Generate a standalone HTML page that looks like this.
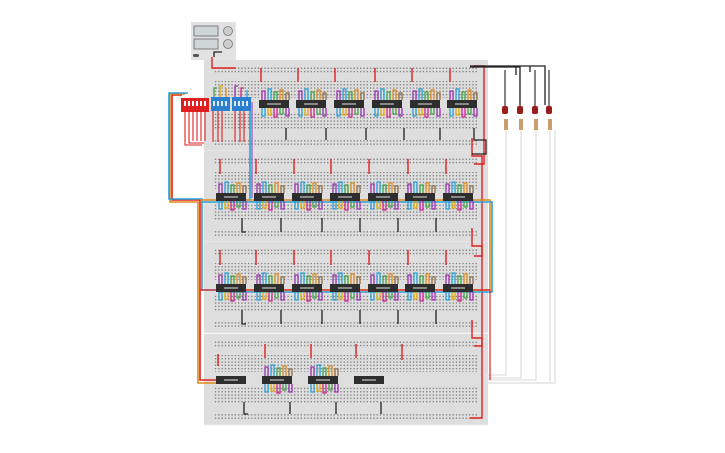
<!DOCTYPE html>
<html><head><style>html,body{margin:0;padding:0;background:#fff;}svg{display:block}</style></head>
<body>
<svg width="725" height="453" viewBox="0 0 725 453" xmlns="http://www.w3.org/2000/svg">
<defs>
<pattern id="d" width="3.3" height="3.3" patternUnits="userSpaceOnUse"><rect x="1" y="1" width="1.3" height="1.3" fill="#7a7a7a"/></pattern>
<g id="board">
<rect x="0" y="0" width="284" height="91" fill="#dedede"/>
<rect x="10" y="6" width="264" height="6.6" fill="url(#d)"/>
<rect x="10" y="21" width="264" height="17" fill="url(#d)"/>
<rect x="10" y="52" width="264" height="17" fill="url(#d)"/>
<rect x="10" y="79" width="264" height="6.6" fill="url(#d)"/>
<line x1="0" y1="91" x2="284" y2="91" stroke="#eee" stroke-width="1"/>
</g>
<g id="chip"><rect x="0" y="0" width="30" height="8" fill="#2e2e2e"/><rect x="8" y="3" width="14" height="2" fill="#888"/></g>
<g id="jmp" fill="none" stroke-width="1.3">
<path d="M3 0V-9H6V0" stroke="#9b30b0"/><path d="M9 0V-11H12V0" stroke="#2aa0d8"/><path d="M15 0V-8H18V0" stroke="#43a047"/><path d="M21 0V-10H24V0" stroke="#e08a1c"/><path d="M27 0V-7H30V0" stroke="#8d6e4a"/>
<path d="M3 8V16H6V8" stroke="#2aa0d8"/><path d="M9 8V15H12V8" stroke="#e6a800"/><path d="M15 8V17H18V8" stroke="#d02090"/><path d="M21 8V14H24V8" stroke="#43a047"/><path d="M27 8V16H30V8" stroke="#9b30b0"/>
</g>
</defs>
<!-- power supply -->
<rect x="191" y="22" width="45" height="38" fill="#e2e2e2"/>
<rect x="194" y="26" width="24" height="10" fill="#cfd6d8" stroke="#666" stroke-width=".8"/>
<rect x="194" y="39" width="24" height="10" fill="#cfd6d8" stroke="#666" stroke-width=".8"/>
<circle cx="228" cy="31" r="4.5" fill="#ccc" stroke="#777" stroke-width=".8"/>
<circle cx="228" cy="44" r="4.5" fill="#ccc" stroke="#777" stroke-width=".8"/>
<rect x="193" y="54" width="6" height="3" rx="1.5" fill="#555"/>
<!-- boards -->
<use href="#board" x="204" y="60"/>
<use href="#board" x="204" y="151"/>
<use href="#board" x="204" y="242"/>
<use href="#board" x="204" y="334"/>
<!-- red/black rail wires -->
<g stroke="#e02020" stroke-width="1.4" fill="none">
<path d="M212 57V68H236"/>
<path d="M261 68V82M298 68V82M335 68V82M375 68V82M412 68V82M450 68V82"/>
<path d="M474 66H484V164H474"/><path d="M472 138V156H482V256H474"/><path d="M472 228V246H482V346H474"/><path d="M472 320V338H482V418H470"/>
<path d="M220 159V174M256 159V174M294 159V174M331 159V174M369 159V174M408 159V174M446 159V174"/>
<path d="M220 250V265M256 250V265M294 250V265M331 250V265M369 250V265M408 250V265M446 250V265"/>
<path d="M218 354V366M265 344V358M311 344V358M356 344V358M402 344V360"/>
</g>
<g stroke="#222" stroke-width="1.3" fill="none">
<path d="M214 57V52H222"/>
<path d="M286 128V140M326 128V140M366 128V140M404 128V140M440 128V140"/>
<path d="M242 218V232H246M281 218V232M322 218V232M360 218V232M398 218V232M436 218V232"/>
<path d="M242 310V324H246M281 310V324M322 310V324M360 310V324M398 310V324M436 310V324"/>
<path d="M244 402V414H248M290 402V414M336 402V414M381 402V414"/>
<path d="M470 66H530V72M490 66H516V75M500 66H545V105M470 67H520V105"/>
<path d="M474 128V140H486V154H472"/>
</g>
<!-- LEDs and resistors -->
<g>
<path d="M505 70V106M520 70V106M535 70V106M549 70V106" stroke="#333" stroke-width="1.2"/>
<g fill="#9a1b1b"><rect x="502" y="106" width="6" height="8" rx="2"/><rect x="517" y="106" width="6" height="8" rx="2"/><rect x="532" y="106" width="6" height="8" rx="2"/><rect x="546" y="106" width="6" height="8" rx="2"/></g>
<g fill="#c8a070"><rect x="504" y="119" width="4" height="11"/><rect x="519" y="119" width="4" height="11"/><rect x="534" y="119" width="4" height="11"/><rect x="548" y="119" width="4" height="11"/></g>
<g stroke="#e6e6e6" stroke-width="1.6" fill="none">
<path d="M506 130V375H486M521 130V378H486M536 130V380H486M550 130V383H486"/>
<path d="M555 130V383H488"/>
</g>
</g>
<!-- left loop wires -->
<g fill="none" stroke-width="1.6">
<path d="M182 95H172V200H200V380H216" stroke="#e02020"/>
<path d="M185 94H170V202H198V383H216" stroke="#e08a1c"/>
<path d="M188 93H169V199H202V290H216" stroke="#2aa0d8"/>
<path d="M250 100V200H216" stroke="#2aa0d8"/>
<path d="M200 200H490V290H216" stroke="#e08a1c"/>
<path d="M202 202H492V292H218" stroke="#2aa0d8"/>
<path d="M200 290H490V380" stroke="#e02020" stroke-width="1.2"/>
<path d="M252 102V198" stroke="#9b30b0" stroke-width="1"/>
</g>
<!-- DIP switches -->
<rect x="181" y="98" width="28" height="14" fill="#e02020"/>
<g fill="#fff"><rect x="184" y="101" width="2" height="5"/><rect x="188" y="101" width="2" height="5"/><rect x="192" y="101" width="2" height="5"/><rect x="196" y="101" width="2" height="5"/><rect x="200" y="101" width="2" height="5"/><rect x="204" y="101" width="2" height="5"/></g>
<rect x="211" y="97" width="19" height="14" fill="#2a7fd0"/><rect x="232" y="97" width="19" height="14" fill="#2a7fd0"/>
<g fill="#dfe9f5"><rect x="213" y="101" width="2" height="5"/><rect x="217" y="101" width="2" height="5"/><rect x="221" y="101" width="2" height="5"/><rect x="225" y="101" width="2" height="5"/><rect x="234" y="101" width="2" height="5"/><rect x="238" y="101" width="2" height="5"/><rect x="242" y="101" width="2" height="5"/><rect x="246" y="101" width="2" height="5"/></g>
<g stroke="#e02020" stroke-width="1.1" fill="none">
<path d="M185 112V145H202M189 112V143H204M193 112V141M197 112V141M201 112V141M205 112V141"/>
<path d="M213 111V142M218 111V142M222 111V142M235 111V142M240 111V142M244 111V142"/>
</g>
<g stroke-width="1.3" fill="none"><path d="M214 97V88H217" stroke="#43a047"/><path d="M220 97V86H223" stroke="#e6a800"/><path d="M226 97V88" stroke="#e08a1c"/><path d="M235 97V86H238" stroke="#9b30b0"/><path d="M241 97V88H244" stroke="#d02090"/><path d="M247 97V90" stroke="#2aa0d8"/></g>
<!-- chips rows with jumpers -->
<g>
<use href="#jmp" x="259" y="100"/><use href="#jmp" x="296" y="100"/><use href="#jmp" x="334" y="100"/><use href="#jmp" x="372" y="100"/><use href="#jmp" x="410" y="100"/><use href="#jmp" x="447" y="100"/>
<use href="#jmp" x="216" y="193"/><use href="#jmp" x="254" y="193"/><use href="#jmp" x="292" y="193"/><use href="#jmp" x="330" y="193"/><use href="#jmp" x="368" y="193"/><use href="#jmp" x="405" y="193"/><use href="#jmp" x="443" y="193"/>
<use href="#jmp" x="216" y="284"/><use href="#jmp" x="254" y="284"/><use href="#jmp" x="292" y="284"/><use href="#jmp" x="330" y="284"/><use href="#jmp" x="368" y="284"/><use href="#jmp" x="405" y="284"/><use href="#jmp" x="443" y="284"/>
<use href="#jmp" x="262" y="376"/><use href="#jmp" x="308" y="376"/>
</g>
<g>
<use href="#chip" x="259" y="100"/><use href="#chip" x="296" y="100"/><use href="#chip" x="334" y="100"/><use href="#chip" x="372" y="100"/><use href="#chip" x="410" y="100"/><use href="#chip" x="447" y="100"/>
<use href="#chip" x="216" y="193"/><use href="#chip" x="254" y="193"/><use href="#chip" x="292" y="193"/><use href="#chip" x="330" y="193"/><use href="#chip" x="368" y="193"/><use href="#chip" x="405" y="193"/><use href="#chip" x="443" y="193"/>
<use href="#chip" x="216" y="284"/><use href="#chip" x="254" y="284"/><use href="#chip" x="292" y="284"/><use href="#chip" x="330" y="284"/><use href="#chip" x="368" y="284"/><use href="#chip" x="405" y="284"/><use href="#chip" x="443" y="284"/>
<use href="#chip" x="216" y="376"/><use href="#chip" x="262" y="376"/><use href="#chip" x="308" y="376"/><use href="#chip" x="354" y="376"/>
</g>
</svg>
</body></html>
